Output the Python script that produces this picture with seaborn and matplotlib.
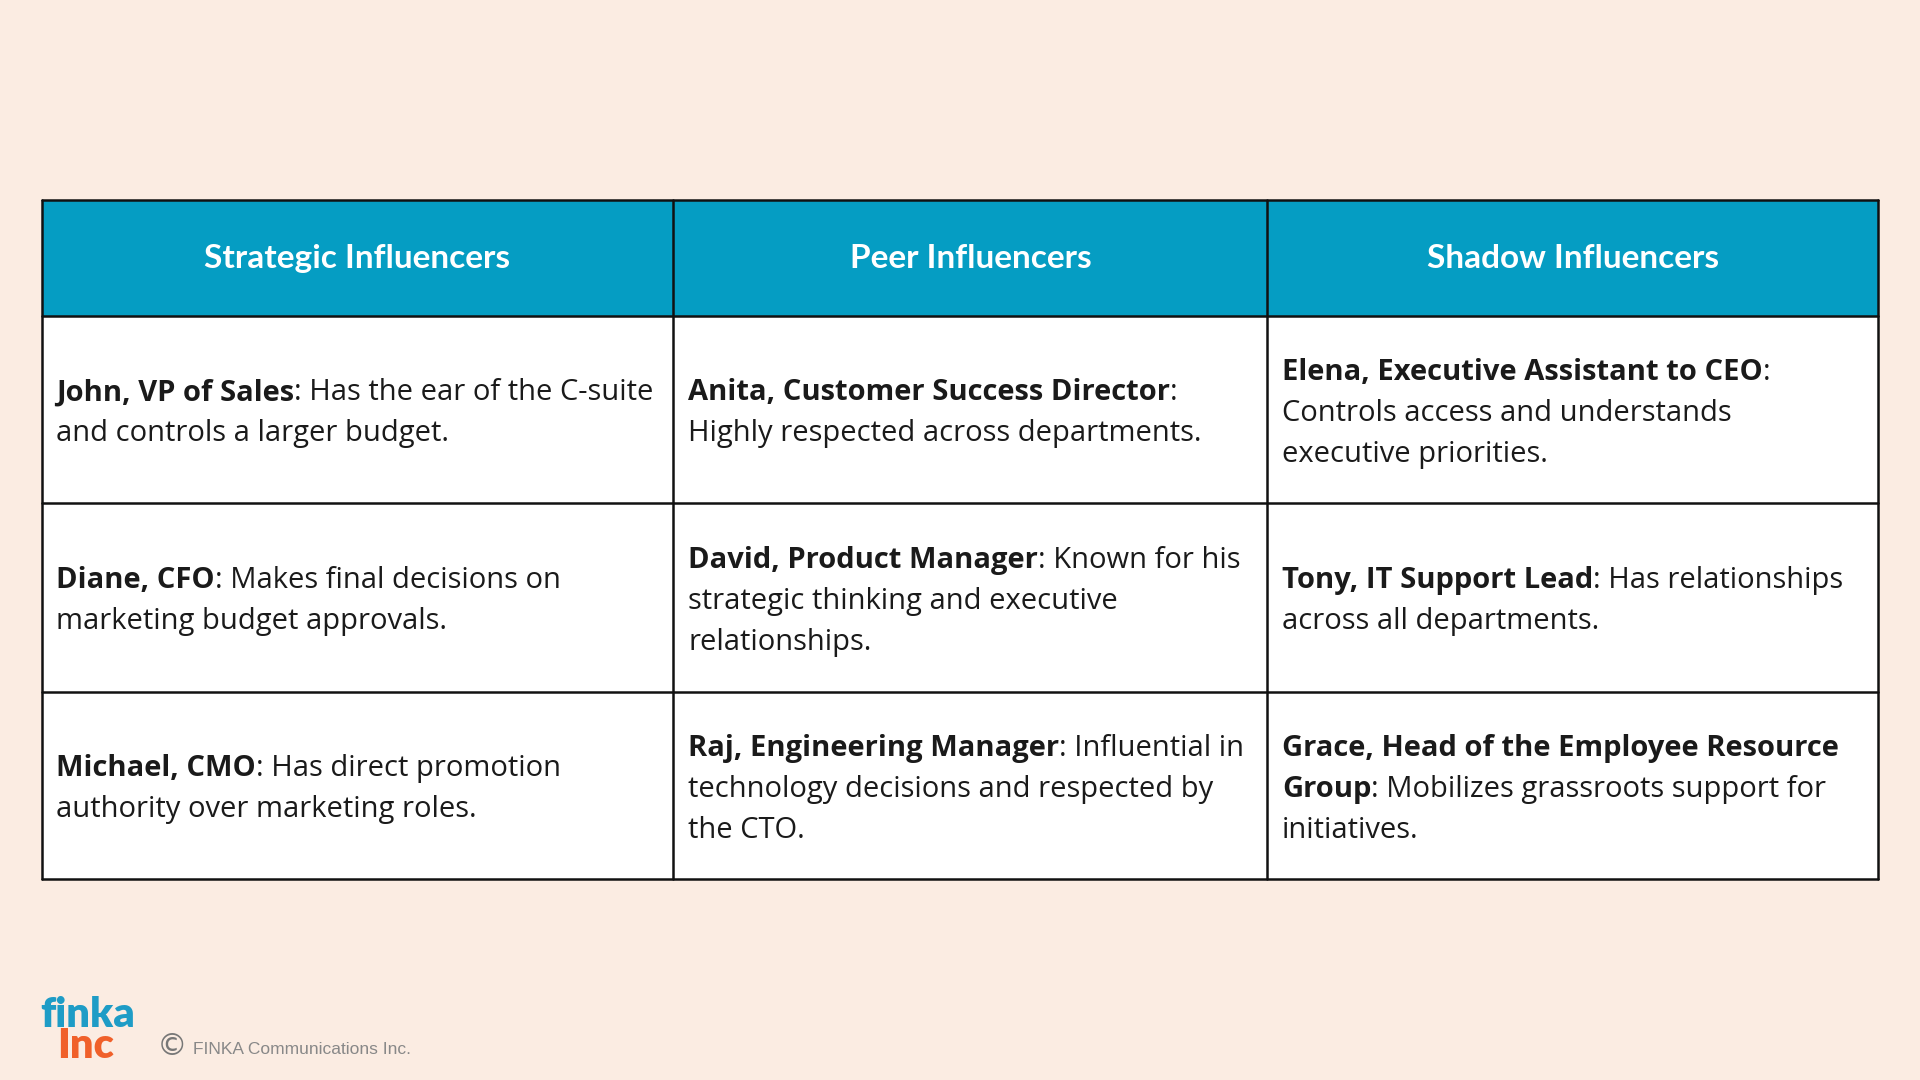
import matplotlib
matplotlib.use("Agg")
import matplotlib.pyplot as plt
import seaborn as sns
from matplotlib.patches import Rectangle

sns.set_theme(style="white")
plt.rcParams['font.family'] = ['Open Sans', 'DejaVu Sans']

# ---- data ----
headers = ["Strategic Influencers", "Peer Influencers", "Shadow Influencers"]
# each cell: list of lines, each line list of (text, bold)
col_strategic = [
    [[("John, VP of Sales", True), (": Has the ear of the C-suite", False)],
     [("and controls a larger budget.", False)]],
    [[("Diane, CFO", True), (": Makes final decisions on", False)],
     [("marketing budget approvals.", False)]],
    [[("Michael, CMO", True), (": Has direct promotion", False)],
     [("authority over marketing roles.", False)]],
]
col_peer = [
    [[("Anita, Customer Success Director", True), (":", False)],
     [("Highly respected across departments.", False)]],
    [[("David, Product Manager", True), (": Known for his", False)],
     [("strategic thinking and executive", False)],
     [("relationships.", False)]],
    [[("Raj, Engineering Manager", True), (": Influential in", False)],
     [("technology decisions and respected by", False)],
     [("the CTO.", False)]],
]
col_shadow = [
    [[("Elena, Executive Assistant to CEO", True), (":", False)],
     [("Controls access and understands", False)],
     [("executive priorities.", False)]],
    [[("Tony, IT Support Lead", True), (": Has relationships", False)],
     [("across all departments.", False)]],
    [[("Grace, Head of the Employee Resource", True)],
     [("Group", True), (": Mobilizes grassroots support for", False)],
     [("initiatives.", False)]],
]
columns = [col_strategic, col_peer, col_shadow]

# ---- layout (reference pixel units) ----
W, H = 1568, 882
col_edges = [34, 550, 1035, 1534]
row_edges = [163, 258, 411, 565, 718]
bg = "#FBECE2"
head_col = "#059DC3"

fig = plt.figure(figsize=(19.2, 10.8), dpi=100, facecolor=bg)
ax = fig.add_axes([0, 0, 1, 1])
ax.set_xlim(0, W)
ax.set_ylim(H, 0)
ax.axis("off")
ax.set_facecolor(bg)

ax.add_patch(Rectangle((col_edges[0], row_edges[0]), col_edges[-1] - col_edges[0],
                       row_edges[1] - row_edges[0], facecolor=head_col, edgecolor="none", zorder=1))
ax.add_patch(Rectangle((col_edges[0], row_edges[1]), col_edges[-1] - col_edges[0],
                       row_edges[-1] - row_edges[1], facecolor="white", edgecolor="none", zorder=1))
lw = 1.8
for x in col_edges:
    ax.plot([x, x], [row_edges[0], row_edges[-1]], color="#111111", lw=lw, zorder=3)
for y in row_edges:
    ax.plot([col_edges[0], col_edges[-1]], [y, y], color="#111111", lw=lw, zorder=3)

for i, h in enumerate(headers):
    ax.text((col_edges[i] + col_edges[i + 1]) / 2, (row_edges[0] + row_edges[1]) / 2 + 1, h,
            ha="center", va="center", color="white", fontsize=24, fontweight="bold",
            family=["Lato", "DejaVu Sans"], zorder=4)

spacing = 33.5
fs = 21
for ci, col in enumerate(columns):
    for ri, lines in enumerate(col):
        yc = (row_edges[ri + 1] + row_edges[ri + 2]) / 2
        n = len(lines)
        for li, line in enumerate(lines):
            ybase = yc + spacing * (li - (n - 1) / 2) + 9
            prev = None
            for txt, bold in line:
                kw = dict(fontsize=fs, color="#1a1a1a", fontweight="bold" if bold else "normal",
                          va="baseline", ha="left", zorder=4)
                if prev is None:
                    prev = ax.text(col_edges[ci] + 12, ybase, txt, **kw)
                else:
                    prev = ax.annotate(txt, xy=(1, ybase), xycoords=(prev, "data"), **kw)

# logo & footer
ax.text(33, 839, "finka", fontsize=30, fontweight="heavy", color="#1E9CC6",
        family=["Lato", "DejaVu Sans"], va="baseline", ha="left")
ax.text(47, 864, "Inc", fontsize=30, fontweight="heavy", color="#F0602A",
        family=["Lato", "DejaVu Sans"], va="baseline", ha="left")
ax.text(128, 855, "©", fontsize=22, color="#777777", va="center", ha="left",
        family=["DejaVu Sans"])
ax.text(158, 857, "FINKA Communications Inc.", fontsize=12.5, color="#888888",
        va="center", ha="left", family=["Liberation Sans", "DejaVu Sans"])

fig.savefig("out.png", dpi=100, facecolor=bg)
